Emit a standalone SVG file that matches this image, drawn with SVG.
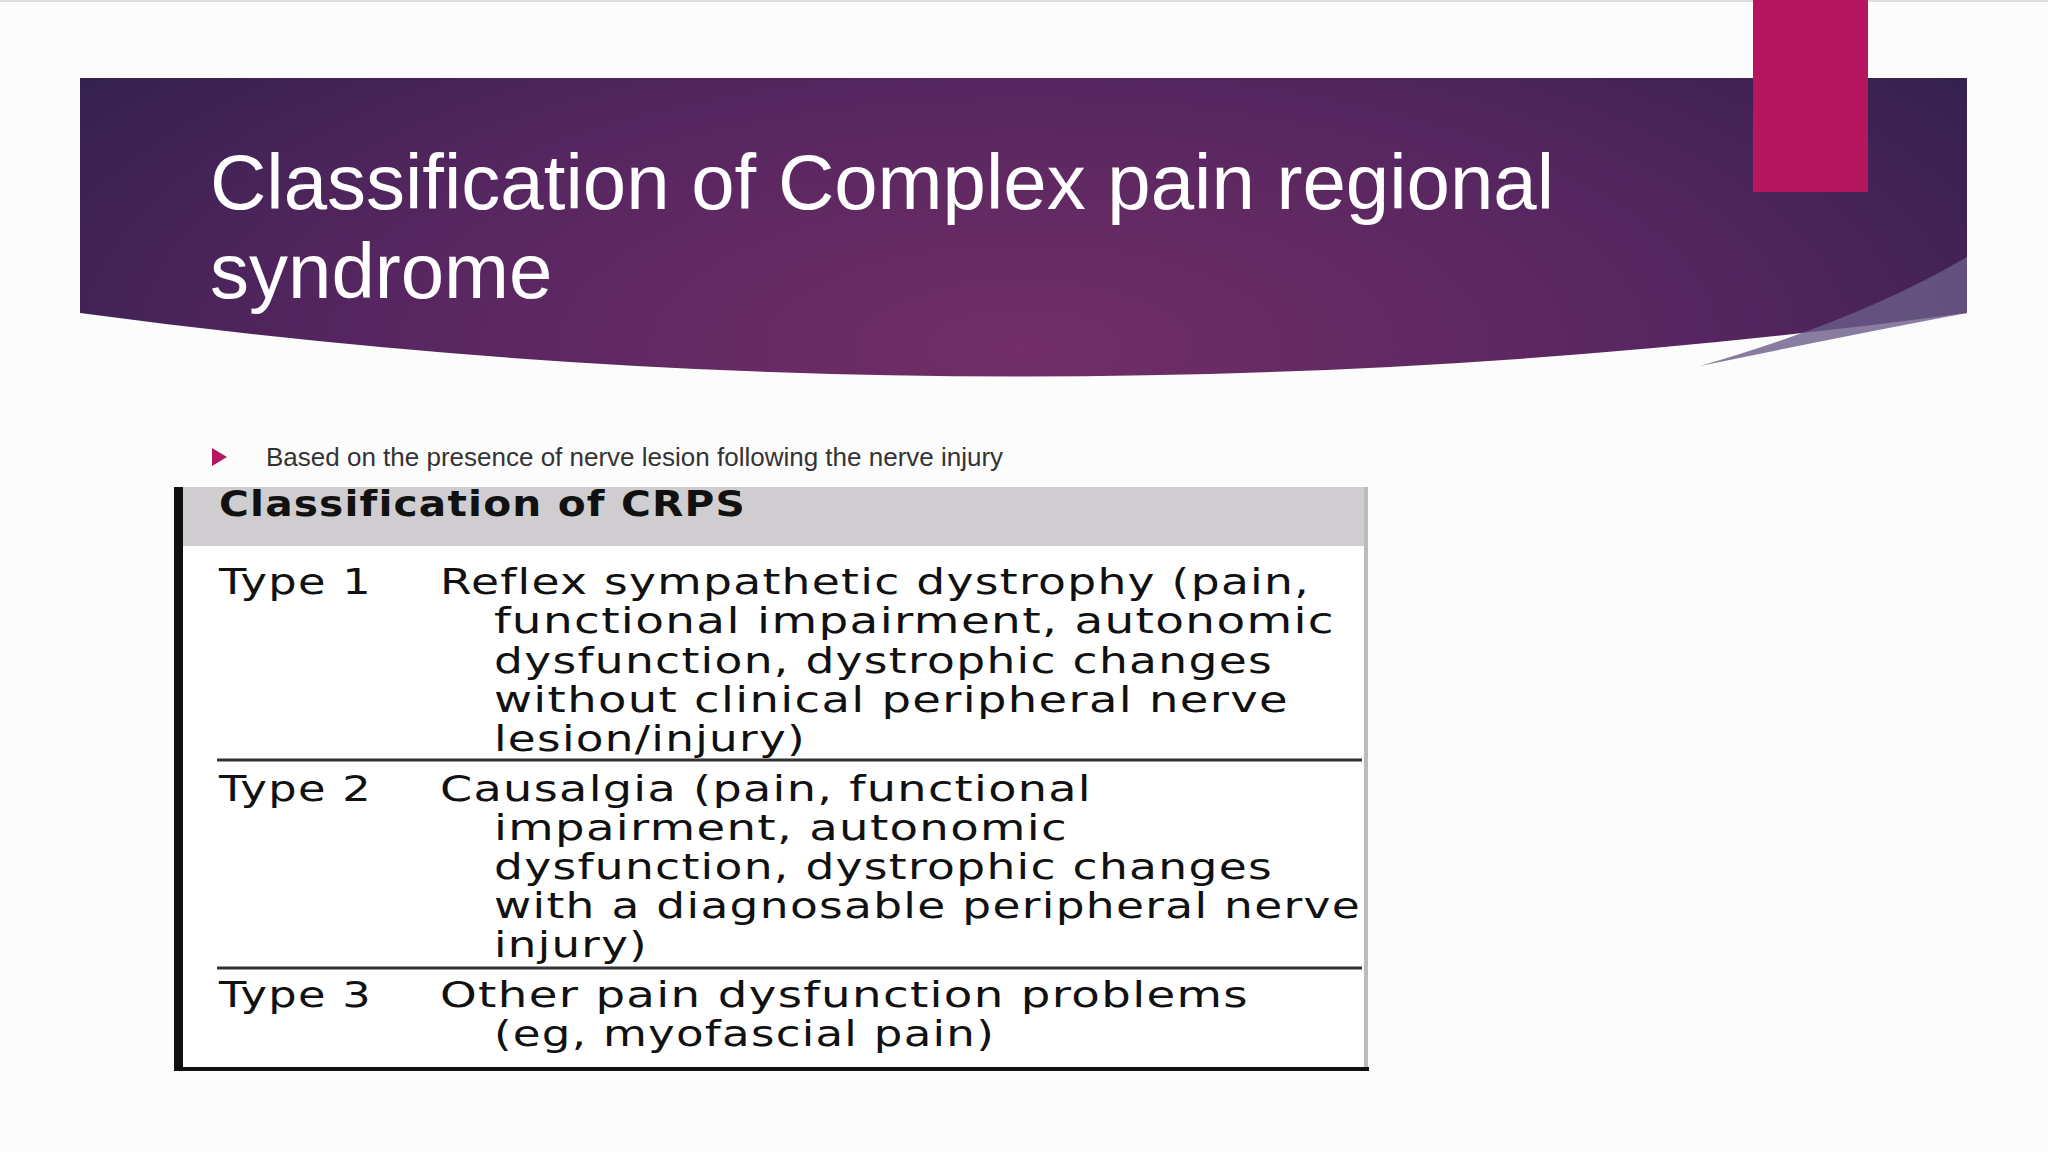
<svg xmlns="http://www.w3.org/2000/svg" width="2048" height="1152" viewBox="0 0 2048 1152">
<defs>
<radialGradient id="hg" cx="0.5" cy="0.9" r="0.7" gradientTransform="translate(0.5 0.9) scale(1 2.5) translate(-0.5 -0.9)">
<stop offset="0" stop-color="#722e66"/><stop offset="0.5" stop-color="#562660"/><stop offset="1" stop-color="#2a1f48"/>
</radialGradient>
<style>
.t{font-family:"DejaVu Sans",sans-serif;font-size:35px;fill:#111;letter-spacing:1px}
.h{font-family:"Liberation Sans",Arial,sans-serif;fill:#fff;font-size:78px}
</style>
</defs>
<rect width="2048" height="1152" fill="#fdfcfd"/>
<line x1="0" y1="1" x2="2048" y2="1" stroke="#ddd" stroke-width="2"/>
<g id="header">
<path d="M80 78 H1967 V313 Q1020 440 80 313 Z" fill="url(#hg)"/>
<path d="M1700 366 Q1860 320 1967 257 V313 Q1850 335 1700 366 Z" fill="#6a5d88" opacity="0.8"/>
<text class="h" x="210" y="209">Classification of Complex pain regional</text>
<text class="h" x="210" y="298">syndrome</text>
</g>
<rect id="accent" x="1753" y="0" width="115" height="192" fill="#b5165f"/>
<g id="bullet">
<polygon points="212,448 227,457 212,466" fill="#b5165f"/>
<text x="266" y="466" font-family="Liberation Sans,Arial,sans-serif" font-size="26" fill="#333">Based on the presence of nerve lesion following the nerve injury</text>
</g>
<g id="table">
<rect x="174" y="487" width="1195" height="584" fill="#fff"/>
<rect x="183" y="487" width="1183" height="59" fill="#cfcdd0"/>
<rect x="174" y="487" width="9" height="584" fill="#111"/>
<rect x="1364" y="487" width="4" height="584" fill="#bbb"/>
<line x1="217" y1="760" x2="1362" y2="760" stroke="#333" stroke-width="3"/>
<line x1="217" y1="968" x2="1362" y2="968" stroke="#333" stroke-width="3"/>
<line x1="183" y1="1069" x2="1369" y2="1069" stroke="#111" stroke-width="4"/>
<text class="t" x="219" y="516" font-weight="bold" textLength="527" lengthAdjust="spacingAndGlyphs">Classification of CRPS</text>
<text class="t" x="219" y="594" textLength="153" lengthAdjust="spacingAndGlyphs">Type 1</text>
<text class="t" x="440" y="594" textLength="870" lengthAdjust="spacingAndGlyphs">Reflex sympathetic dystrophy (pain,</text>
<text class="t" x="494" y="633" textLength="841" lengthAdjust="spacingAndGlyphs">functional impairment, autonomic</text>
<text class="t" x="494" y="673" textLength="779" lengthAdjust="spacingAndGlyphs">dysfunction, dystrophic changes</text>
<text class="t" x="494" y="712" textLength="795" lengthAdjust="spacingAndGlyphs">without clinical peripheral nerve</text>
<text class="t" x="494" y="751" textLength="312" lengthAdjust="spacingAndGlyphs">lesion/injury)</text>
<text class="t" x="219" y="801" textLength="153" lengthAdjust="spacingAndGlyphs">Type 2</text>
<text class="t" x="440" y="801" textLength="652" lengthAdjust="spacingAndGlyphs">Causalgia (pain, functional</text>
<text class="t" x="494" y="840" textLength="574" lengthAdjust="spacingAndGlyphs">impairment, autonomic</text>
<text class="t" x="494" y="879" textLength="779" lengthAdjust="spacingAndGlyphs">dysfunction, dystrophic changes</text>
<text class="t" x="494" y="918" textLength="867" lengthAdjust="spacingAndGlyphs">with a diagnosable peripheral nerve</text>
<text class="t" x="494" y="957" textLength="154" lengthAdjust="spacingAndGlyphs">injury)</text>
<text class="t" x="219" y="1007" textLength="153" lengthAdjust="spacingAndGlyphs">Type 3</text>
<text class="t" x="440" y="1007" textLength="809" lengthAdjust="spacingAndGlyphs">Other pain dysfunction problems</text>
<text class="t" x="494" y="1046" textLength="501" lengthAdjust="spacingAndGlyphs">(eg, myofascial pain)</text>
</g>
</svg>
